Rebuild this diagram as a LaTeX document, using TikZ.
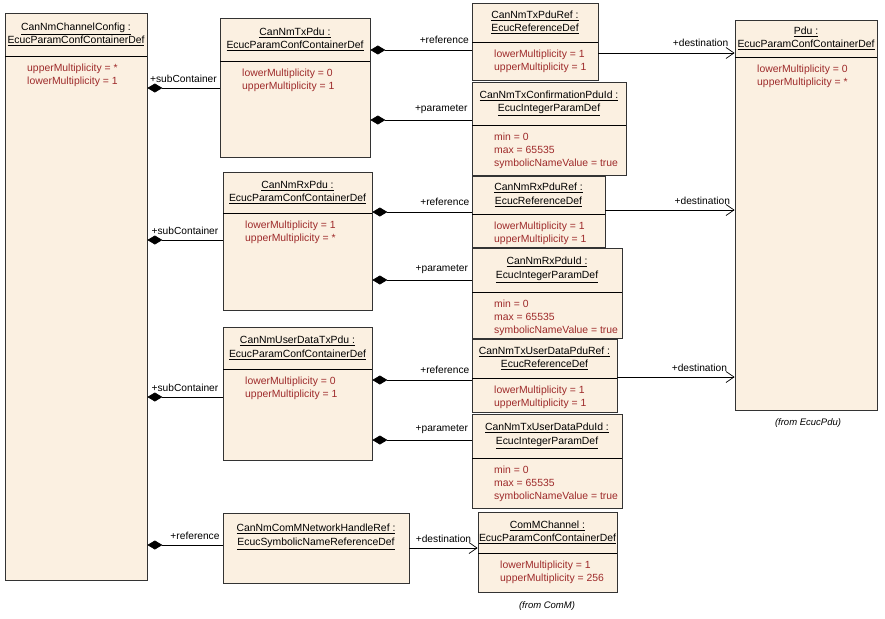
\documentclass[tikz,border=0pt]{standalone}
\usepackage{fontspec}
\setmainfont{Liberation Sans}
\usetikzlibrary{arrows.meta,fit}
\definecolor{boxfill}{HTML}{FBF0E1}
\definecolor{attrc}{HTML}{9E2A2A}
\begin{document}
\begin{tikzpicture}[x=1pt,y=-1pt,
  box/.style={draw=black!80,line width=0.8pt,fill=boxfill,inner sep=0pt},
  ttl/.style={align=center,font=\fontsize{10.4}{13.5}\selectfont,inner sep=0pt},
  attr/.style={align=left,font=\fontsize{10.4}{13}\selectfont,text=attrc,inner sep=0pt},
  lbl/.style={font=\fontsize{10.2}{11}\selectfont,inner sep=0pt},
  comp/.style={line width=0.7pt,{Diamond[length=15pt,width=9pt]}-},
  dest/.style={line width=0.7pt,-{Straight Barb[length=8pt,width=11pt]}}]
\useasboundingbox (0,0) rectangle (885,618);
\newcommand\ubox[8]{%
  \node[box,fit={(#2,#3)(#4,#5)}] (#1) {};
  \draw[line width=0.7pt] (#2,#6) -- (#4,#6);
  \node[ttl] (#1-t) at ({(#2+#4)/2},{(#3+#6)/2}) {#7};
  \node[attr,anchor=north west] (#1-a) at ({#2+22},{#6+8}) {#8};}
\ubox{cfg}{5}{13}{147}{580}{56}{\underline{CanNmChannelConfig :}\\\underline{EcucParamConfContainerDef}}{upperMultiplicity = *\\lowerMultiplicity = 1}
\ubox{tx}{220}{18}{370}{157}{61}{\underline{CanNmTxPdu :}\\\underline{EcucParamConfContainerDef}}{lowerMultiplicity = 0\\upperMultiplicity = 1}
\ubox{txref}{472}{3}{598}{80}{42}{\underline{CanNmTxPduRef :}\\\underline{EcucReferenceDef}}{lowerMultiplicity = 1\\upperMultiplicity = 1}
\ubox{txid}{472}{82}{626}{175}{125}{\underline{CanNmTxConfirmationPduId :}\\\underline{EcucIntegerParamDef}}{min = 0\\max = 65535\\symbolicNameValue = true}
\ubox{pdu}{735}{20}{877}{410}{57}{\underline{Pdu :}\\\underline{EcucParamConfContainerDef}}{lowerMultiplicity = 0\\upperMultiplicity = *}
\ubox{rx}{223}{172}{372}{310}{213}{\underline{CanNmRxPdu :}\\\underline{EcucParamConfContainerDef}}{lowerMultiplicity = 1\\upperMultiplicity = *}
\ubox{rxref}{472}{176}{605}{247}{214}{\underline{CanNmRxPduRef :}\\\underline{EcucReferenceDef}}{lowerMultiplicity = 1\\upperMultiplicity = 1}
\ubox{rxid}{472}{248}{622}{338}{292}{\underline{CanNmRxPduId :}\\\underline{EcucIntegerParamDef}}{min = 0\\max = 65535\\symbolicNameValue = true}
\ubox{ud}{223}{327}{372}{460}{369}{\underline{CanNmUserDataTxPdu :}\\\underline{EcucParamConfContainerDef}}{lowerMultiplicity = 0\\upperMultiplicity = 1}
\ubox{udref}{472}{339}{617}{412}{378}{\underline{CanNmTxUserDataPduRef :}\\\underline{EcucReferenceDef}}{lowerMultiplicity = 1\\upperMultiplicity = 1}
\ubox{udid}{472}{414}{622}{508}{458}{\underline{CanNmTxUserDataPduId :}\\\underline{EcucIntegerParamDef}}{min = 0\\max = 65535\\symbolicNameValue = true}
\node[box,fit={(223,513)(409,583)}] (nh) {};
\node[ttl] (nh-t) at (316,537) {\underline{CanNmComMNetworkHandleRef :}\\\underline{EcucSymbolicNameReferenceDef}};
\ubox{comm}{478}{512}{617}{592}{553}{\underline{ComMChannel :}\\\underline{EcucParamConfContainerDef}}{lowerMultiplicity = 1\\upperMultiplicity = 256}
\node[lbl,font=\fontsize{9.5}{10}\selectfont\itshape] (f1) at (808,423) {(from EcucPdu)};
\node[lbl,font=\fontsize{9.5}{10}\selectfont\itshape] (f2) at (547,606) {(from ComM)};
% composition connectors
\draw[comp] (cfg.east |- 0,88) -- node[lbl,above=5pt] {+subContainer} (tx.west |- 0,88);
\draw[comp] (cfg.east |- 0,240) -- node[lbl,above=5pt] {+subContainer} (rx.west |- 0,240);
\draw[comp] (cfg.east |- 0,397) -- node[lbl,above=5pt] {+subContainer} (ud.west |- 0,397);
\draw[comp] (cfg.east |- 0,545) -- node[lbl,above=5pt,xshift=10pt] {+reference} (nh.west |- 0,545);
\draw[comp] (tx.east |- 0,50) -- (txref.west |- 0,50) node[lbl,pos=0.73,above=6pt] {+reference};
\draw[comp] (tx.east |- 0,120) -- (txid.west |- 0,120) node[lbl,pos=0.7,above=6pt] {+parameter};
\draw[comp] (rx.east |- 0,212) -- (rxref.west |- 0,212) node[lbl,pos=0.73,above=6pt] {+reference};
\draw[comp] (rx.east |- 0,280) -- (rxid.west |- 0,280) node[lbl,pos=0.7,above=6pt] {+parameter};
\draw[comp] (ud.east |- 0,380) -- (udref.west |- 0,380) node[lbl,pos=0.73,above=6pt] {+reference};
\draw[comp] (ud.east |- 0,440) -- (udid.west |- 0,440) node[lbl,pos=0.7,above=6pt] {+parameter};
% destination connectors
\draw[dest] (nh.east |- 0,548) -- node[lbl,above=5pt] {+destination} (comm.west |- 0,548);
\draw[dest] (txref.east |- 0,53) -- (pdu.west |- 0,53) node[lbl,pos=0.75,above=6pt] {+destination};
\draw[dest] (rxref.east |- 0,210) -- (pdu.west |- 0,210) node[lbl,pos=0.75,above=5pt] {+destination};
\draw[dest] (udref.east |- 0,377) -- (pdu.west |- 0,377) node[lbl,pos=0.7,above=5pt] {+destination};
\end{tikzpicture}
\end{document}
